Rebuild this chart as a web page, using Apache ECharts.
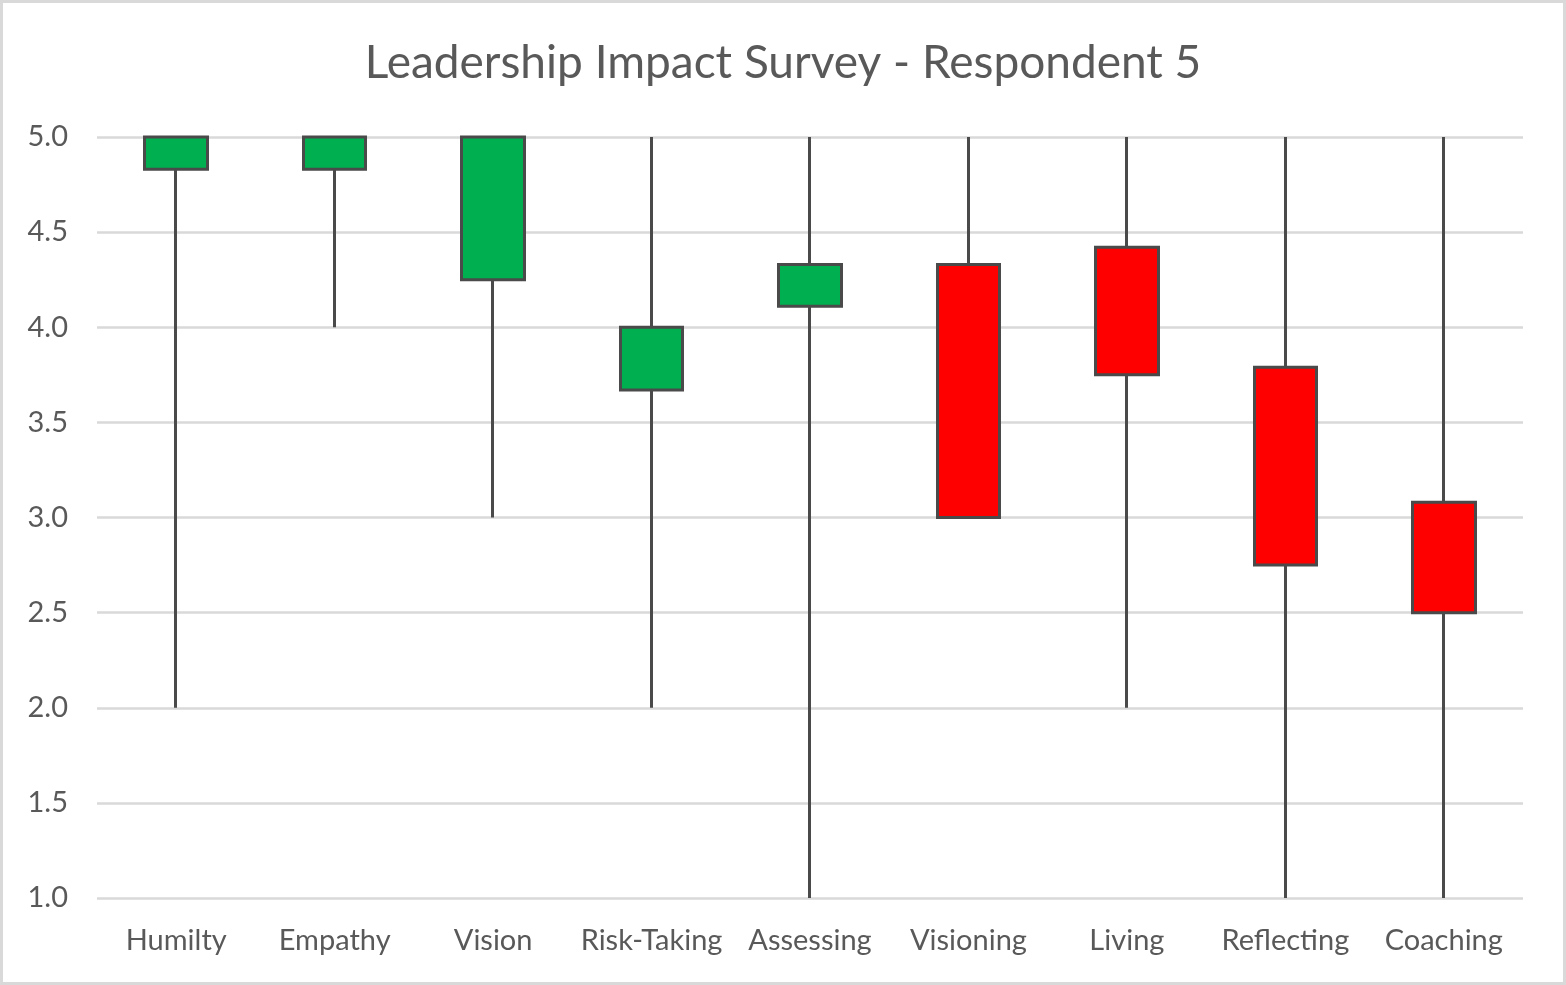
<!DOCTYPE html>
<html>
<head>
<meta charset="utf-8">
<script src="https://cdn.jsdelivr.net/npm/echarts@6/dist/echarts.min.js"></script>
<style>
html,body{margin:0;padding:0;background:#fff;}
#chart{width:1566px;height:985px;}
</style>
</head>
<body>
<div id="chart"></div>
<script>
const categories = ["Humilty","Empathy","Vision","Risk-Taking","Assessing","Visioning","Living","Reflecting","Coaching"];
const openValues  = [4.83, 4.83, 4.25, 3.67, 4.11, 4.33, 4.42, 3.79, 3.08];
const closeValues = [5.00, 5.00, 5.00, 4.00, 4.33, 3.00, 3.75, 2.75, 2.50];
const lowValues   = [2.0, 4.0, 3.0, 2.0, 1.0, 3.0, 2.0, 1.0, 1.0];
const highValues  = [5.0, 5.0, 5.0, 5.0, 5.0, 5.0, 5.0, 5.0, 5.0];
const titleText = "Leadership Impact Survey - Respondent 5";

const candleData = categories.map((c, i) => [openValues[i], closeValues[i], lowValues[i], highValues[i]]);

const chart = echarts.init(document.getElementById('chart'));
chart.setOption({
  animation: false,
  backgroundColor: '#ffffff',
  textStyle: { fontFamily: 'Lato, "Open Sans", sans-serif' },
  title: {
    text: titleText,
    left: 'center',
    top: 35,
    textStyle: { fontFamily: 'Lato, "Open Sans", sans-serif', fontSize: 46, fontWeight: 'normal', color: '#595959' }
  },
  graphic: [{
    type: 'rect',
    shape: { x: 1.5, y: 1.5, width: 1563, height: 982 },
    style: { fill: 'none', stroke: '#d9d9d9', lineWidth: 3 },
    silent: true
  }],
  grid: { left: 97, right: 43, top: 137, bottom: 87, containLabel: false },
  xAxis: {
    type: 'category',
    data: categories,
    axisLine: { show: false },
    axisTick: { show: false },
    axisLabel: { color: '#595959', fontSize: 29, margin: 28, interval: 0, hideOverlap: false, fontFamily: 'Lato, "Open Sans", sans-serif' },
    splitLine: { show: false }
  },
  yAxis: {
    type: 'value',
    min: 1,
    max: 5,
    interval: 0.5,
    axisLine: { show: false },
    axisTick: { show: false },
    axisLabel: { color: '#595959', fontSize: 29, margin: 29, formatter: v => v.toFixed(1), fontFamily: 'Lato, "Open Sans", sans-serif' },
    splitLine: { lineStyle: { color: '#d9d9d9', width: 2.5 } }
  },
  series: [{
    type: 'candlestick',
    data: candleData,
    barWidth: 63,
    itemStyle: {
      color: '#00B050',
      color0: '#FF0000',
      borderColor: '#4a4a4a',
      borderColor0: '#4a4a4a',
      borderWidth: 3
    }
  }]
});
</script>
</body>
</html>
